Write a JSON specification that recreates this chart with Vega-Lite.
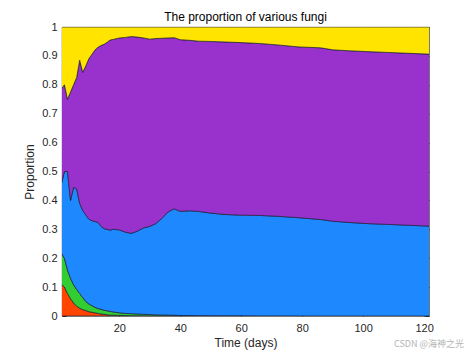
{
"$schema":"https://vega.github.io/schema/vega-lite/v6.json",
"autosize":"none",
"width":367,"height":289,
"padding":{"left":62,"top":27,"right":45,"bottom":39},
"background":"white",
"config":{"view":{"stroke":"#262626","strokeWidth":0.8},"font":"Liberation Sans"},
"title":{"text":"The proportion of various fungi","fontSize":12,"fontWeight":"normal","color":"#000000","offset":-3,"font":"Liberation Sans"},
"data":{"values":[
{"day":1,"fungus":"Fungus 1","p":0.11},{"day":1,"fungus":"Fungus 2","p":0.108},{"day":1,"fungus":"Fungus 3","p":0.239},{"day":1,"fungus":"Fungus 4","p":0.328},{"day":1,"fungus":"Fungus 5","p":0.215},
{"day":2,"fungus":"Fungus 1","p":0.10},{"day":2,"fungus":"Fungus 2","p":0.099},{"day":2,"fungus":"Fungus 3","p":0.301},{"day":2,"fungus":"Fungus 4","p":0.30},{"day":2,"fungus":"Fungus 5","p":0.20},
{"day":3,"fungus":"Fungus 1","p":0.078},{"day":3,"fungus":"Fungus 2","p":0.081},{"day":3,"fungus":"Fungus 3","p":0.341},{"day":3,"fungus":"Fungus 4","p":0.25},{"day":3,"fungus":"Fungus 5","p":0.25},
{"day":4,"fungus":"Fungus 1","p":0.06},{"day":4,"fungus":"Fungus 2","p":0.07},{"day":4,"fungus":"Fungus 3","p":0.27},{"day":4,"fungus":"Fungus 4","p":0.375},{"day":4,"fungus":"Fungus 5","p":0.225},
{"day":5,"fungus":"Fungus 1","p":0.045},{"day":5,"fungus":"Fungus 2","p":0.063},{"day":5,"fungus":"Fungus 3","p":0.337},{"day":5,"fungus":"Fungus 4","p":0.355},{"day":5,"fungus":"Fungus 5","p":0.20},
{"day":6,"fungus":"Fungus 1","p":0.034},{"day":6,"fungus":"Fungus 2","p":0.058},{"day":6,"fungus":"Fungus 3","p":0.348},{"day":6,"fungus":"Fungus 4","p":0.385},{"day":6,"fungus":"Fungus 5","p":0.175},
{"day":7,"fungus":"Fungus 1","p":0.027},{"day":7,"fungus":"Fungus 2","p":0.051},{"day":7,"fungus":"Fungus 3","p":0.312},{"day":7,"fungus":"Fungus 4","p":0.495},{"day":7,"fungus":"Fungus 5","p":0.115},
{"day":8,"fungus":"Fungus 1","p":0.022},{"day":8,"fungus":"Fungus 2","p":0.042},{"day":8,"fungus":"Fungus 3","p":0.301},{"day":8,"fungus":"Fungus 4","p":0.478},{"day":8,"fungus":"Fungus 5","p":0.157},
{"day":9,"fungus":"Fungus 1","p":0.019},{"day":9,"fungus":"Fungus 2","p":0.031},{"day":9,"fungus":"Fungus 3","p":0.30},{"day":9,"fungus":"Fungus 4","p":0.515},{"day":9,"fungus":"Fungus 5","p":0.135},
{"day":10,"fungus":"Fungus 1","p":0.015},{"day":10,"fungus":"Fungus 2","p":0.027},{"day":10,"fungus":"Fungus 3","p":0.293},{"day":10,"fungus":"Fungus 4","p":0.555},{"day":10,"fungus":"Fungus 5","p":0.11},
{"day":11,"fungus":"Fungus 1","p":0.013},{"day":11,"fungus":"Fungus 2","p":0.023},{"day":11,"fungus":"Fungus 3","p":0.294},{"day":11,"fungus":"Fungus 4","p":0.575},{"day":11,"fungus":"Fungus 5","p":0.095},
{"day":12,"fungus":"Fungus 1","p":0.011},{"day":12,"fungus":"Fungus 2","p":0.019},{"day":12,"fungus":"Fungus 3","p":0.297},{"day":12,"fungus":"Fungus 4","p":0.593},{"day":12,"fungus":"Fungus 5","p":0.08},
{"day":13,"fungus":"Fungus 1","p":0.009},{"day":13,"fungus":"Fungus 2","p":0.017},{"day":13,"fungus":"Fungus 3","p":0.298},{"day":13,"fungus":"Fungus 4","p":0.606},{"day":13,"fungus":"Fungus 5","p":0.07},
{"day":14,"fungus":"Fungus 1","p":0.007},{"day":14,"fungus":"Fungus 2","p":0.016},{"day":14,"fungus":"Fungus 3","p":0.287},{"day":14,"fungus":"Fungus 4","p":0.626},{"day":14,"fungus":"Fungus 5","p":0.064},
{"day":15,"fungus":"Fungus 1","p":0.006},{"day":15,"fungus":"Fungus 2","p":0.014},{"day":15,"fungus":"Fungus 3","p":0.282},{"day":15,"fungus":"Fungus 4","p":0.638},{"day":15,"fungus":"Fungus 5","p":0.06},
{"day":16,"fungus":"Fungus 1","p":0.004},{"day":16,"fungus":"Fungus 2","p":0.014},{"day":16,"fungus":"Fungus 3","p":0.282},{"day":16,"fungus":"Fungus 4","p":0.647},{"day":16,"fungus":"Fungus 5","p":0.053},
{"day":17,"fungus":"Fungus 1","p":0.003},{"day":17,"fungus":"Fungus 2","p":0.013},{"day":17,"fungus":"Fungus 3","p":0.281},{"day":17,"fungus":"Fungus 4","p":0.658},{"day":17,"fungus":"Fungus 5","p":0.045},
{"day":18,"fungus":"Fungus 1","p":0.003},{"day":18,"fungus":"Fungus 2","p":0.011},{"day":18,"fungus":"Fungus 3","p":0.286},{"day":18,"fungus":"Fungus 4","p":0.657},{"day":18,"fungus":"Fungus 5","p":0.043},
{"day":20,"fungus":"Fungus 1","p":0.002},{"day":20,"fungus":"Fungus 2","p":0.009},{"day":20,"fungus":"Fungus 3","p":0.287},{"day":20,"fungus":"Fungus 4","p":0.664},{"day":20,"fungus":"Fungus 5","p":0.038},
{"day":22,"fungus":"Fungus 1","p":0.0015},{"day":22,"fungus":"Fungus 2","p":0.0075},{"day":22,"fungus":"Fungus 3","p":0.281},{"day":22,"fungus":"Fungus 4","p":0.674},{"day":22,"fungus":"Fungus 5","p":0.036},
{"day":24,"fungus":"Fungus 1","p":0.001},{"day":24,"fungus":"Fungus 2","p":0.007},{"day":24,"fungus":"Fungus 3","p":0.278},{"day":24,"fungus":"Fungus 4","p":0.681},{"day":24,"fungus":"Fungus 5","p":0.033},
{"day":26,"fungus":"Fungus 1","p":0.0008},{"day":26,"fungus":"Fungus 2","p":0.0062},{"day":26,"fungus":"Fungus 3","p":0.287},{"day":26,"fungus":"Fungus 4","p":0.671},{"day":26,"fungus":"Fungus 5","p":0.035},
{"day":28,"fungus":"Fungus 1","p":0.0006},{"day":28,"fungus":"Fungus 2","p":0.0054},{"day":28,"fungus":"Fungus 3","p":0.299},{"day":28,"fungus":"Fungus 4","p":0.657},{"day":28,"fungus":"Fungus 5","p":0.038},
{"day":30,"fungus":"Fungus 1","p":0.0005},{"day":30,"fungus":"Fungus 2","p":0.0045},{"day":30,"fungus":"Fungus 3","p":0.305},{"day":30,"fungus":"Fungus 4","p":0.648},{"day":30,"fungus":"Fungus 5","p":0.042},
{"day":32,"fungus":"Fungus 1","p":0.0004},{"day":32,"fungus":"Fungus 2","p":0.0036},{"day":32,"fungus":"Fungus 3","p":0.316},{"day":32,"fungus":"Fungus 4","p":0.64},{"day":32,"fungus":"Fungus 5","p":0.04},
{"day":34,"fungus":"Fungus 1","p":0.0003},{"day":34,"fungus":"Fungus 2","p":0.0032},{"day":34,"fungus":"Fungus 3","p":0.3345},{"day":34,"fungus":"Fungus 4","p":0.623},{"day":34,"fungus":"Fungus 5","p":0.039},
{"day":36,"fungus":"Fungus 1","p":0.0003},{"day":36,"fungus":"Fungus 2","p":0.0027},{"day":36,"fungus":"Fungus 3","p":0.357},{"day":36,"fungus":"Fungus 4","p":0.602},{"day":36,"fungus":"Fungus 5","p":0.038},
{"day":38,"fungus":"Fungus 1","p":0.0002},{"day":38,"fungus":"Fungus 2","p":0.0023},{"day":38,"fungus":"Fungus 3","p":0.3685},{"day":38,"fungus":"Fungus 4","p":0.592},{"day":38,"fungus":"Fungus 5","p":0.037},
{"day":40,"fungus":"Fungus 1","p":0.0002},{"day":40,"fungus":"Fungus 2","p":0.0018},{"day":40,"fungus":"Fungus 3","p":0.36},{"day":40,"fungus":"Fungus 4","p":0.594},{"day":40,"fungus":"Fungus 5","p":0.044},
{"day":43,"fungus":"Fungus 1","p":0.0001},{"day":43,"fungus":"Fungus 2","p":0.0014},{"day":43,"fungus":"Fungus 3","p":0.3625},{"day":43,"fungus":"Fungus 4","p":0.59},{"day":43,"fungus":"Fungus 5","p":0.046},
{"day":46,"fungus":"Fungus 1","p":0.0001},{"day":46,"fungus":"Fungus 2","p":0.0011},{"day":46,"fungus":"Fungus 3","p":0.3608},{"day":46,"fungus":"Fungus 4","p":0.589},{"day":46,"fungus":"Fungus 5","p":0.049},
{"day":50,"fungus":"Fungus 1","p":0.0001},{"day":50,"fungus":"Fungus 2","p":0.0009},{"day":50,"fungus":"Fungus 3","p":0.355},{"day":50,"fungus":"Fungus 4","p":0.594},{"day":50,"fungus":"Fungus 5","p":0.05},
{"day":55,"fungus":"Fungus 1","p":0},{"day":55,"fungus":"Fungus 2","p":0.0008},{"day":55,"fungus":"Fungus 3","p":0.3502},{"day":55,"fungus":"Fungus 4","p":0.597},{"day":55,"fungus":"Fungus 5","p":0.052},
{"day":60,"fungus":"Fungus 1","p":0},{"day":60,"fungus":"Fungus 2","p":0.0006},{"day":60,"fungus":"Fungus 3","p":0.3484},{"day":60,"fungus":"Fungus 4","p":0.597},{"day":60,"fungus":"Fungus 5","p":0.054},
{"day":66,"fungus":"Fungus 1","p":0},{"day":66,"fungus":"Fungus 2","p":0.0004},{"day":66,"fungus":"Fungus 3","p":0.3476},{"day":66,"fungus":"Fungus 4","p":0.595},{"day":66,"fungus":"Fungus 5","p":0.057},
{"day":72,"fungus":"Fungus 1","p":0},{"day":72,"fungus":"Fungus 2","p":0.0003},{"day":72,"fungus":"Fungus 3","p":0.3447},{"day":72,"fungus":"Fungus 4","p":0.593},{"day":72,"fungus":"Fungus 5","p":0.062},
{"day":79,"fungus":"Fungus 1","p":0},{"day":79,"fungus":"Fungus 2","p":0.0002},{"day":79,"fungus":"Fungus 3","p":0.3398},{"day":79,"fungus":"Fungus 4","p":0.591},{"day":79,"fungus":"Fungus 5","p":0.069},
{"day":86,"fungus":"Fungus 1","p":0},{"day":86,"fungus":"Fungus 2","p":0.0001},{"day":86,"fungus":"Fungus 3","p":0.3339},{"day":86,"fungus":"Fungus 4","p":0.594},{"day":86,"fungus":"Fungus 5","p":0.072},
{"day":90,"fungus":"Fungus 1","p":0},{"day":90,"fungus":"Fungus 2","p":0},{"day":90,"fungus":"Fungus 3","p":0.328},{"day":90,"fungus":"Fungus 4","p":0.593},{"day":90,"fungus":"Fungus 5","p":0.079},
{"day":95,"fungus":"Fungus 1","p":0},{"day":95,"fungus":"Fungus 2","p":0},{"day":95,"fungus":"Fungus 3","p":0.324},{"day":95,"fungus":"Fungus 4","p":0.594},{"day":95,"fungus":"Fungus 5","p":0.082},
{"day":101,"fungus":"Fungus 1","p":0},{"day":101,"fungus":"Fungus 2","p":0},{"day":101,"fungus":"Fungus 3","p":0.32},{"day":101,"fungus":"Fungus 4","p":0.595},{"day":101,"fungus":"Fungus 5","p":0.085},
{"day":108,"fungus":"Fungus 1","p":0},{"day":108,"fungus":"Fungus 2","p":0},{"day":108,"fungus":"Fungus 3","p":0.317},{"day":108,"fungus":"Fungus 4","p":0.595},{"day":108,"fungus":"Fungus 5","p":0.088},
{"day":115,"fungus":"Fungus 1","p":0},{"day":115,"fungus":"Fungus 2","p":0},{"day":115,"fungus":"Fungus 3","p":0.314},{"day":115,"fungus":"Fungus 4","p":0.595},{"day":115,"fungus":"Fungus 5","p":0.091},
{"day":122,"fungus":"Fungus 1","p":0},{"day":122,"fungus":"Fungus 2","p":0},{"day":122,"fungus":"Fungus 3","p":0.311},{"day":122,"fungus":"Fungus 4","p":0.595},{"day":122,"fungus":"Fungus 5","p":0.094}
]},
"layer":[
{"mark":{"type":"area","clip":true,"stroke":"#1c1c3a","strokeWidth":0.7,"interpolate":"linear"},
 "encoding":{
  "x":{"field":"day","type":"quantitative","scale":{"domain":[1.2,121.6],"nice":false,"zero":false},
       "axis":{"orient":"bottom","values":[20,40,60,80,100,120],"grid":false,"domain":false,"tickSize":-4,"tickColor":"#262626","labelPadding":10,"labelFontSize":11,"labelColor":"#262626","title":"Time (days)","titleFontSize":12,"titleFontWeight":"normal","titleColor":"#262626","titlePadding":4,"labelFont":"Liberation Sans","titleFont":"Liberation Sans"}},
  "y":{"field":"p","type":"quantitative","stack":"zero","scale":{"domain":[0,1],"nice":false},
       "axis":{"orient":"left","values":[0,0.1,0.2,0.3,0.4,0.5,0.6,0.7,0.8,0.9,1],"format":"~g","grid":false,"domain":false,"tickSize":-4,"tickColor":"#262626","labelPadding":9,"labelFontSize":11,"labelColor":"#262626","title":"Proportion","titleFontSize":12,"titleFontWeight":"normal","titleColor":"#262626","titlePadding":5,"labelFont":"Liberation Sans","titleFont":"Liberation Sans"}},
  "color":{"field":"fungus","type":"nominal","legend":null,
       "scale":{"domain":["Fungus 1","Fungus 2","Fungus 3","Fungus 4","Fungus 5"],"range":["#FF4500","#32CD32","#1E88FF","#9932CC","#FFE400"]}},
  "order":{"field":"fungus","type":"ordinal","sort":"ascending"}
 }},
{"mark":{"type":"point","opacity":0},
 "encoding":{
  "x":{"field":"day","type":"quantitative","axis":{"orient":"top","values":[20,40,60,80,100,120],"labels":false,"title":null,"grid":false,"domain":false,"tickSize":-4,"tickColor":"#262626"}},
  "y":{"field":"p","type":"quantitative","axis":{"orient":"right","values":[0,0.1,0.2,0.3,0.4,0.5,0.6,0.7,0.8,0.9,1],"labels":false,"title":null,"grid":false,"domain":false,"tickSize":-4,"tickColor":"#262626"}}
 }},
{"data":{"values":[{"label":"CSDN @海神之光"}]},
 "mark":{"type":"text","clip":false,"font":"Noto Sans CJK SC","fontSize":9,"color":"#b4b4b4","align":"center","baseline":"middle"},
 "encoding":{
  "x":{"datum":121.6,"type":"quantitative","axis":null},
  "y":{"datum":-0.098,"type":"quantitative","axis":null},
  "text":{"field":"label","type":"nominal"}
 }}
],
"resolve":{"axis":{"x":"independent","y":"independent"}}
}
